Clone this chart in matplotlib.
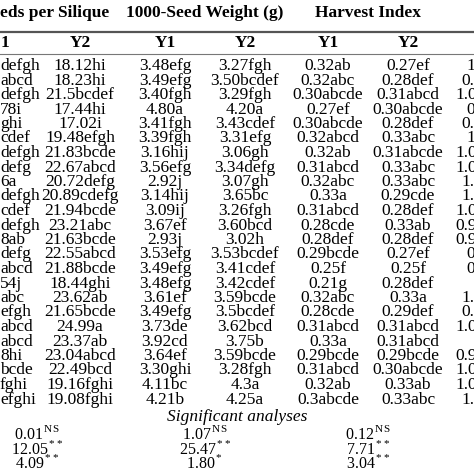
import matplotlib.pyplot as plt

plt.rcParams['font.family'] = 'Liberation Serif'
plt.rcParams['mathtext.fontset'] = 'custom'
plt.rcParams['mathtext.rm'] = 'Liberation Serif'

# visible (cropped) fragments of the leftmost column
seeds_y1 = ['defgh', 'abcd', 'defgh', '78i', 'ghi', 'cdef', 'defgh', 'defg', '6a',
            'defgh', 'cdef', 'defgh', '8ab', 'defg', 'abcd', '54j', 'abc', 'efgh',
            'abcd', 'abcd', '8hi', 'bcde', 'fghi', 'efghi']
seeds_y2 = ['18.12hi', '18.23hi', '21.5bcdef', '17.44hi', '17.02i', '19.48efgh',
            '21.83bcde', '22.67abcd', '20.72defg', '20.89cdefg', '21.94bcde',
            '23.21abc', '21.63bcde', '22.55abcd', '21.88bcde', '18.44ghi', '23.62ab',
            '21.65bcde', '24.99a', '23.37ab', '23.04abcd', '22.49bcd', '19.16fghi',
            '19.08fghi']
tsw_y1 = ['3.48efg', '3.49efg', '3.40fgh', '4.80a', '3.41fgh', '3.39fgh', '3.16hij',
          '3.56efg', '2.92j', '3.14hij', '3.09ij', '3.67ef', '2.93j', '3.53efg',
          '3.49efg', '3.48efg', '3.61ef', '3.49efg', '3.73de', '3.92cd', '3.64ef',
          '3.30ghi', '4.11bc', '4.21b']
tsw_y2 = ['3.27fgh', '3.50bcdef', '3.29fgh', '4.20a', '3.43cdef', '3.31efg', '3.06gh',
          '3.34defg', '3.07gh', '3.65bc', '3.26fgh', '3.60bcd', '3.02h', '3.53bcdef',
          '3.41cdef', '3.42cdef', '3.59bcde', '3.5bcdef', '3.62bcd', '3.75b',
          '3.59bcde', '3.28fgh', '4.3a', '4.25a']
hi_y1 = ['0.32ab', '0.32abc', '0.30abcde', '0.27ef', '0.30abcde', '0.32abcd', '0.32ab',
         '0.31abcd', '0.32abc', '0.33a', '0.31abcd', '0.28cde', '0.28def', '0.29bcde',
         '0.25f', '0.21g', '0.32abc', '0.28cde', '0.31abcd', '0.33a', '0.29bcde',
         '0.31abcd', '0.32ab', '0.3abcde']
hi_y2 = ['0.27ef', '0.28def', '0.31abcd', '0.30abcde', '0.28def', '0.33abc',
         '0.31abcde', '0.33abc', '0.33abc', '0.29cde', '0.28def', '0.33ab', '0.28def',
         '0.27ef', '0.25f', '0.28def', '0.33a', '0.29def', '0.31abcd', '0.31abcd',
         '0.29bcde', '0.30abcde', '0.33ab', '0.33abc']
# visible fragments of the rightmost column
last_col = ['1', '0.', '1.0', '0', '0.', '1', '1.0', '1.0', '1.', '1.', '1.0', '0.9',
            '0.9', '0', '0', '', '1.', '0.', '1.0', '', '0.9', '1.0', '1.0', '1.']

sig_values = [['0.01', '12.05', '4.09'], ['1.07', '25.47', '1.80'], ['0.12', '7.71', '3.04']]
sig_marks = [['NS', '**', '**'], ['NS', '**', '*'], ['NS', '**', '**']]

fig = plt.figure(figsize=(4.74, 4.74), dpi=100)
ax = fig.add_axes([0, 0, 1, 1])
ax.set_xlim(0, 474)
ax.set_ylim(474, 0)
ax.axis('off')

fs = 12.5
# header
ax.text(0, 13, 'eds per Silique', fontsize=fs, weight='bold', va='center', ha='left')
ax.text(205, 13, '1000-Seed Weight (g)', fontsize=fs, weight='bold', va='center', ha='center')
ax.text(368, 13, 'Harvest Index', fontsize=fs, weight='bold', va='center', ha='center')
ax.plot([0, 474], [32, 32], color='#555555', lw=1.6)
ax.text(1, 43, '1', fontsize=fs, weight='bold', va='center', ha='left')
for x, lab in zip([80, 165, 245, 328, 408], ['Y2', 'Y1', 'Y2', 'Y1', 'Y2']):
    ax.text(x, 43, lab, fontsize=fs, weight='bold', va='center', ha='center')
ax.plot([0, 474], [54, 54], color='#777777', lw=0.8)

# body
y0, dy = 66, 14.5
cols = [(80, seeds_y2), (165, tsw_y1), (245, tsw_y2), (328, hi_y1), (408, hi_y2)]
for i in range(len(seeds_y2)):
    y = y0 + i * dy
    ax.text(0, y, seeds_y1[i], fontsize=fs, va='center', ha='left')
    for x, vals in cols:
        ax.text(x, y, vals[i], fontsize=fs, va='center', ha='center')
    frag = last_col[i]
    if frag:
        ax.text(472 - 5.5 * len(frag), y, frag, fontsize=fs, va='center', ha='left')

ax.text(237, 417, 'Significant analyses', fontsize=fs, style='italic', va='center', ha='center')
for x, vals, marks in zip([37, 205, 368], sig_values, sig_marks):
    for j, (v, m) in enumerate(zip(vals, marks)):
        ax.text(x, 434 + j * 14.5, v + r'$^{\,\mathrm{' + m + '}}$', fontsize=11.5,
                va='center', ha='center')

fig.savefig('out.png', dpi=100)
